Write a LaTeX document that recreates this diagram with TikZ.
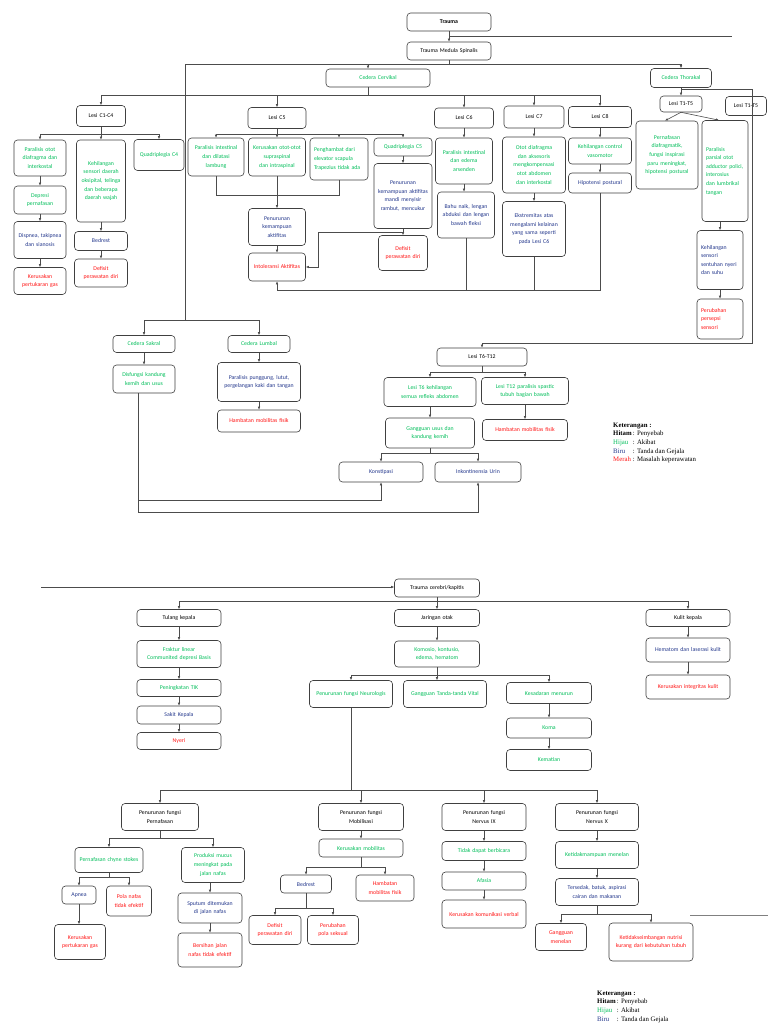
\documentclass[tikz,border=0pt]{standalone}
\usepackage{fontspec}
\setmainfont{Carlito}
\newfontfamily\lgf{Liberation Serif}
\usetikzlibrary{arrows.meta}
\definecolor{gr}{RGB}{0,190,90}
\definecolor{bl}{RGB}{35,55,140}
\definecolor{rd}{RGB}{255,20,20}
\tikzset{
 box/.style={draw=black!75,rounded corners=3.5pt,line width=0.6pt,inner sep=1pt,font=\fontsize{5.8}{8.6}\selectfont},
 ln/.style={draw=black!70,line width=0.6pt},
 ar/.style={ln,-{Latex[length=3pt,width=2.6pt]}}}
\newcommand\bx[8][center]{\node[box,align=#1,text=#7,minimum width=#5pt,minimum height=#6pt,text width=\dimexpr#5pt-8pt\relax] (#2) at (#3,#4) {#8};}
\hyphenpenalty=10000
\exhyphenpenalty=10000
\begin{document}
\hyphenpenalty=10000
\exhyphenpenalty=10000
\begin{tikzpicture}[x=1pt,y=-1pt]
\fill[white] (0,0) rectangle (768,1024);
\useasboundingbox (0,0) rectangle (768,1024);
% ---------- top ----------
\bx{tr}{449}{22}{84}{18}{black}{\textbf{Trauma}}
\bx{tms}{449}{51}{84}{18}{black}{Trauma Medula Spinalis}
\draw[ar] (tr.south) -- (tms.north);
\coordinate (r1) at (732,36);
\draw[ln] (tr.south|-r1) -- (r1);
\bx{cerv}{378}{78}{104}{18}{gr}{Cedera Cervikal}
\bx{thor}{681}{78}{61}{19}{gr}{Cedera Thorakal}
\draw[ln] (tms.south) -- ++(0,4) coordinate (j0);
\coordinate (sl) at (185,320);
\draw[ln] (j0) -| (sl);
\draw[ar] (j0) -| (thor.north);
\draw[ar] (j0) -| ([xshift=-10pt]cerv.north);
% cervical lesions
\bx{lc14}{101}{116}{49}{21}{black}{Lesi C1-C4}
\bx{lc5}{277}{118}{58}{21}{black}{Lesi C5}
\bx{lc6}{464}{118}{59}{20}{black}{Lesi C6}
\bx{lc7}{534}{117}{60}{22}{black}{Lesi C7}
\bx{lc8}{600}{117}{63}{21}{black}{Lesi C8}
\draw[ln] ([xshift=-10pt]cerv.south) -- ++(0,8) coordinate (j1);
\foreach \n in {lc14,lc5,lc6,lc7,lc8} \draw[ar] (j1) -| (\n.north);
% C1-C4
\bx{pod}{40}{158}{52}{36}{gr}{Paralisis otot diafragma dan interkostal}
\bx{kso}{101}{181}{49}{82}{gr}{Kehilangan sensori daerah oksipital, telinga dan beberapa daerah wajah}
\bx{q4}{159}{155}{50}{31}{gr}{Quadriplegia C4}
\draw[ln] (lc14.south) -- ++(0,8) coordinate (j5);
\foreach \n in {pod,kso,q4} \draw[ar] (j5) -| (\n.north);
\bx{dep}{40}{200}{52}{28}{gr}{Depresi pernafasan}
\bx{dsp}{40}{240}{52}{37}{bl}{Dispnea, takipnea dan sianosis}
\bx{kpg}{40}{281}{52}{27}{rd}{Kerusakan pertukaran gas}
\bx{bd1}{101}{241}{53}{19}{bl}{Bedrest}
\bx{dpd1}{101}{273}{53}{28}{rd}{Defisit perawatan diri}
\draw[ar] (pod.south) -- (dep.north);
\draw[ar] (dep.south) -- (dsp.north);
\draw[ar] (dsp.south) -- (kpg.north);
\draw[ar] (kso.south) -- (bd1.north);
\draw[ar] (bd1.south) -- (dpd1.north);
% C5
\bx{pil}{216}{157}{56}{38}{gr}{Paralisis intestinal dan dilatasi lambung}
\bx{kos}{277}{157}{57}{38}{gr}{Kerusakan otot-otot supraspinal dan intraspinal}
\bx[left]{pes}{339}{159}{58}{42}{gr}{Penghambat dari elevator scapula Trapezius tidak ada}
\bx{q5}{403}{147}{58}{18}{gr}{Quadriplegia C5}
\draw[ln] (lc5.south) -- ++(0,6) coordinate (j6);
\foreach \n in {pil,kos,pes,q5} \draw[ar] (j6) -| (\n.north);
\coordinate (j7) at (339,195);
\draw[ln] (pil.south) |- (j7) -- (pes.south);
\bx{pka}{277}{227}{57}{37}{bl}{Penurunan kemampuan aktifitas}
\bx{int}{277}{267}{57}{28}{rd}{Intoleransi Aktifitas}
\draw[ar] (kos.south) -- (pka.north);
\draw[ar] (pka.south) -- (int.north);
\bx{pkm}{403}{196}{58}{65}{bl}{Penurunan kemampuan aktifitas mandi menyisir rambut, mencukur}
\bx{dpd2}{403}{253}{49}{35}{rd}{Defisit perawatan diri}
\draw[ar] (q5.south) -- (pkm.north);
\draw[ar] (pkm.south) -- (dpd2.north);
\coordinate (k1) at (318,232);
\draw[ar] (dpd2.north|-k1) -- (k1) |- (int.east);
% C6-C8
\bx{pie}{464}{161}{57}{46}{gr}{Paralisis intestinal dan edema arsenden}
\bx{bnf}{466}{215}{57}{46}{bl}{Bahu naik, lengan abduksi dan lengan bawah fleksi}
\bx{oda}{534}{165}{63}{56}{gr}{Otot diafragma dan aksesoris mengkompensasi otot abdomen dan interkostal}
\bx{eka}{534}{229}{63}{55}{bl}{Ekstremitas atas mengalami kelainan yang sama seperti pada Lesi C6}
\bx{kcv}{600}{151}{63}{26}{gr}{Kehilangan control vasomotor}
\bx{hip}{600}{183}{63}{20}{bl}{Hipotensi postural}
\draw[ar] (lc6.south) -- (lc6.south|-pie.north);
\draw[ar] (pie.south) -- (pie.south|-bnf.north);
\draw[ar] (lc7.south) -- (oda.north);
\draw[ar] (oda.south) -- (eka.north);
\draw[ar] (lc8.south) -- (kcv.north);
\draw[ar] (kcv.south) -- (hip.north);
\coordinate (b1) at (600,290);
\draw[ar] (hip.south) -- (b1) -| (int.south);
\draw[ln] (bnf.south) -- (bnf.south|-b1);
\draw[ln] (eka.south) -- (eka.south|-b1);
% thoracal
\bx{t15}{681}{104}{42}{16}{black}{Lesi T1-T5}
\bx{t15b}{746}{106}{41}{19}{black}{Lesi T1-T5}
\draw[ar] (thor.south) -- (t15.north);
\bx{pdf}{667}{155}{62}{68}{gr}{Pernafasan diafragmatik, fungsi inspirasi paru meningkat, hipotensi postural}
\bx[left]{ppo}{725}{171}{46}{101}{gr}{Paralisis parsial otot adductor polici, interosius dan lumbrikal tangan}
\draw[ar] (t15.south) -- ([xshift=-2pt]pdf.north);
\draw[ar] (t15.south) -- ([xshift=-6pt]ppo.north);
\bx[left]{kss}{720}{260}{46}{59}{bl}{Kehilangan sensori sentuhan nyeri dan suhu}
\bx[left]{pps}{720}{319}{46}{40}{rd}{Perubahan persepsi sensori}
\draw[ar] (kss.north|-ppo.south) -- (kss.north);
\draw[ar] (kss.south) -- (pps.north);
\bx{t612}{482}{357}{90}{18}{black}{Lesi T6-T12}
\coordinate (rr) at (752,343);
\draw[ar] ([yshift=-2pt]thor.south) -| (rr) -| (t612.north);
% sakral / lumbal
\bx{sak}{144}{344}{62}{17}{gr}{Cedera Sakral}
\bx{lum}{259}{344}{62}{17}{gr}{Cedera Lumbal}
\draw[ar] (sl) -| (sak.north);
\draw[ar] (sl) -| (lum.north);
\bx{dis}{144}{379}{62}{28}{gr}{Disfungsi kandung kemih dan usus}
\bx{ppk}{259}{382}{83}{39}{bl}{Paralisis punggung, lutut, pergelangan kaki dan tangan}
\bx{hm1}{259}{421}{83}{22}{rd}{Hambatan mobilitas fisik}
\draw[ar] (sak.south) -- (dis.north);
\draw[ar] (lum.south) -- (ppk.north);
\draw[ar] (ppk.south) -- (hm1.north);
% T6-T12
\bx{t6}{430}{392}{92}{29}{gr}{Lesi T6 kehilangan semua refleks abdomen}
\bx{t12}{525}{391}{87}{27}{gr}{Lesi T12 paralisis spastic tubuh bagian bawah}
\draw[ln] (t612.south) -- ++(0,6) coordinate (j3);
\draw[ar] (j3) -| (t6.north);
\draw[ar] (j3) -| (t12.north);
\bx{guk}{430}{433}{89}{30}{gr}{Gangguan usus dan kandung kemih}
\bx{hm2}{525}{430}{85}{21}{rd}{Hambatan mobilitas fisik}
\draw[ar] (t6.south) -- (guk.north);
\draw[ar] (t12.south) -- (hm2.north);
\bx{kon}{381}{472}{84}{20}{bl}{Konstipasi}
\bx{ink}{478}{472}{86}{20}{bl}{Inkontinensia Urin}
\draw[ln] (guk.south) -- ++(0,5) coordinate (j4);
\draw[ar] (j4) -| (kon.north);
\draw[ar] (j4) -| (ink.north);
\coordinate (d1) at (138,500);
\coordinate (d2) at (138,512);
\draw[ar] (d1|-dis.south) -- (d1) -| (kon.south);
\draw[ar] (d1) -- (d2) -| (ink.south);
% legend 1
\node[anchor=north west,inner sep=0pt,font=\lgf\fontsize{6.8}{8.6}\selectfont] (leg1) at (613,421) {\begin{tabular}{@{}l@{\,}l@{}}
\multicolumn{2}{@{}l}{\textbf{Keterangan :}}\\
\textbf{Hitam} & : Penyebab\\
\textcolor{gr}{Hijau} & : Akibat\\
\textcolor{bl}{Biru} & : Tanda dan Gejala\\
\textcolor{rd}{Merah} & : Masalah keperawatan
\end{tabular}};
% ---------- bottom ----------
\bx{tck}{437}{588}{85}{18}{black}{Trauma cerebri/kapitis}
\coordinate (l2) at (41,587);
\draw[ar] (l2) -- (tck.west|-l2);
\bx{tk}{179}{618}{84}{17}{black}{Tulang kepala}
\bx{jo}{437}{618}{85}{17}{black}{Jaringan otak}
\bx{kk}{688}{618}{84}{17}{black}{Kulit kepala}
\draw[ln] (tck.south) -- ++(0,4) coordinate (j8);
\foreach \n in {tk,jo,kk} \draw[ar] (j8) -| (\n.north);
\bx{fl}{179}{654}{84}{27}{gr}{Fraktur linear\\Communited depresi Basis}
\bx{tik}{179}{688}{84}{17}{gr}{Peningkatan TIK}
\bx{skp}{179}{715}{84}{18}{bl}{Sakit Kepala}
\bx{nyr}{179}{741}{84}{17}{rd}{Nyeri}
\draw[ar] (tk.south) -- (fl.north);
\draw[ar] (fl.south) -- (tik.north);
\draw[ar] (tik.south) -- (skp.north);
\draw[ar] (skp.south) -- (nyr.north);
\bx{kke}{437}{654}{85}{26}{gr}{Komosio, kontusio, edema, hematom}
\draw[ar] (jo.south) -- (kke.north);
\bx{hlk}{688}{650}{84}{24}{bl}{Hematom dan laserasi kulit}
\bx{kik}{688}{687}{84}{24}{rd}{Kerusakan integritas kulit}
\draw[ar] (kk.south) -- (hlk.north);
\draw[ar] (hlk.south) -- (kik.north);
\bx{pfn}{351}{694}{83}{27}{gr}{Penurunan fungsi Neurologis}
\bx{gtv}{445}{694}{83}{27}{gr}{Gangguan Tanda-tanda Vital}
\bx{kmn}{549}{693}{85}{21}{gr}{Kesadaran menurun}
\bx{kom}{549}{728}{85}{20}{gr}{Koma}
\bx{kmt}{549}{760}{85}{21}{gr}{Kematian}
\draw[ln] (kke.south) -- ++(0,8) coordinate (j9);
\draw[ar] (j9) -| (pfn.north);
\draw[ar] (j9) -| (kmn.north);
\draw[ar] (j9) -- (j9|-gtv.north);
\draw[ar] (kmn.south) -- (kom.north);
\draw[ar] (kom.south) -- (kmt.north);
\bx{pfp}{160}{817}{77}{27}{black}{Penurunan fungsi\\Pernafasan}
\bx{pfm}{361}{817}{85}{27}{black}{Penurunan fungsi\\Mobilisasi}
\bx{pf9}{484}{817}{84}{27}{black}{Penurunan fungsi\\Nervus IX}
\bx{pfx}{597}{817}{83}{27}{black}{Penurunan fungsi\\Nervus X}
\path (pfn.south) ++(0,82) coordinate (j10);
\draw[ln] (pfn.south) -- (j10);
\foreach \n in {pfp,pfm,pf9,pfx} \draw[ar] (j10) -| (\n.north);
% pernafasan
\bx{pcs}{109}{860}{68}{25}{gr}{Pernafasan chyne stokes}
\bx{pmm}{213}{865}{63}{35}{gr}{Produksi mucus meningkat pada jalan nafas}
\draw[ln] (pfp.south) -- ++(0,7) coordinate (j11);
\draw[ar] (j11) -| (pcs.north);
\draw[ar] (j11) -| (pmm.north);
\bx{apn}{79}{895}{34}{18}{bl}{Apnea}
\bx{pnt}{129}{901}{45}{30}{rd}{Pola nafas tidak efektif}
\draw[ln] (pcs.south) -- ++(0,4) coordinate (j12);
\draw[ar] (j12) -| (apn.north);
\draw[ar] (j12) -| (pnt.north);
\bx{kpg2}{80}{942}{51}{35}{rd}{Kerusakan pertukaran gas}
\draw[ar] (apn.south) -- (apn.south|-kpg2.north);
\bx{spt}{210}{908}{64}{30}{bl}{Sputum ditemukan di jalan nafas}
\bx{bjn}{210}{950}{64}{34}{rd}{Bersihan jalan nafas tidak efektif}
\draw[ar] (spt.north|-pmm.south) -- (spt.north);
\draw[ar] (spt.south) -- (bjn.north);
% mobilisasi
\bx{krm}{361}{848}{84}{18}{gr}{Kerusakan mobilitas}
\draw[ar] (pfm.south) -- (krm.north);
\bx{bd2}{306}{884}{51}{18}{bl}{Bedrest}
\bx{hmf}{385}{888}{58}{26}{rd}{Hambatan mobilitas fisik}
\draw[ln] (krm.south) -- ++(0,10) coordinate (j13);
\draw[ar] (j13) -| (bd2.north);
\draw[ar] (j13) -| (hmf.north);
\bx{dpd3}{275}{930}{52}{29}{rd}{Defisit perawatan diri}
\bx{pse}{333}{930}{51}{29}{rd}{Perubahan pola seksual}
\draw[ln] (bd2.south) -- ++(0,15) coordinate (j14);
\draw[ar] (j14) -| (dpd3.north);
\draw[ar] (j14) -| (pse.north);
% nervus IX
\bx{tdb}{484}{851}{84}{19}{gr}{Tidak dapat berbicara}
\bx{afs}{484}{881}{84}{18}{gr}{Afasia}
\bx{kkv}{484}{914}{84}{28}{rd}{Kerusakan komunikasi verbal}
\draw[ar] (pf9.south) -- (tdb.north);
\draw[ar] (tdb.south) -- (afs.north);
\draw[ar] (afs.south) -- (kkv.north);
% nervus X
\bx{kmm}{597}{855}{83}{27}{gr}{Ketidakmampuan menelan}
\bx{tsb}{597}{892}{83}{27}{bl}{Tersedak, batuk, aspirasi cairan dan makanan}
\draw[ar] (pfx.south) -- (kmm.north);
\draw[ar] (kmm.south) -- (tsb.north);
\bx{ggm}{561}{937}{51}{27}{rd}{Gangguan menelan}
\bx{kns}{651}{942}{84}{38}{rd}{Ketidakseimbangan nutrisi kurang dari kebutuhan tubuh}
\draw[ln] (tsb.south) -- ++(0,8) coordinate (j15);
\draw[ar] (j15) -| (ggm.north);
\draw[ar] (j15) -| (kns.north);
\coordinate (l3a) at (690,915);
\coordinate (l3b) at (768,915);
\draw[ln,draw=black!50] (l3a) -- (l3b);
% legend 2
\node[anchor=north west,inner sep=0pt,font=\lgf\fontsize{6.8}{8.6}\selectfont] (leg2) at (597,989) {\begin{tabular}{@{}l@{\,}l@{}}
\multicolumn{2}{@{}l}{\textbf{Keterangan :}}\\
\textbf{Hitam} & : Penyebab\\
\textcolor{gr}{Hijau} & : Akibat\\
\textcolor{bl}{Biru} & : Tanda dan Gejala
\end{tabular}};
\end{tikzpicture}
\end{document}
